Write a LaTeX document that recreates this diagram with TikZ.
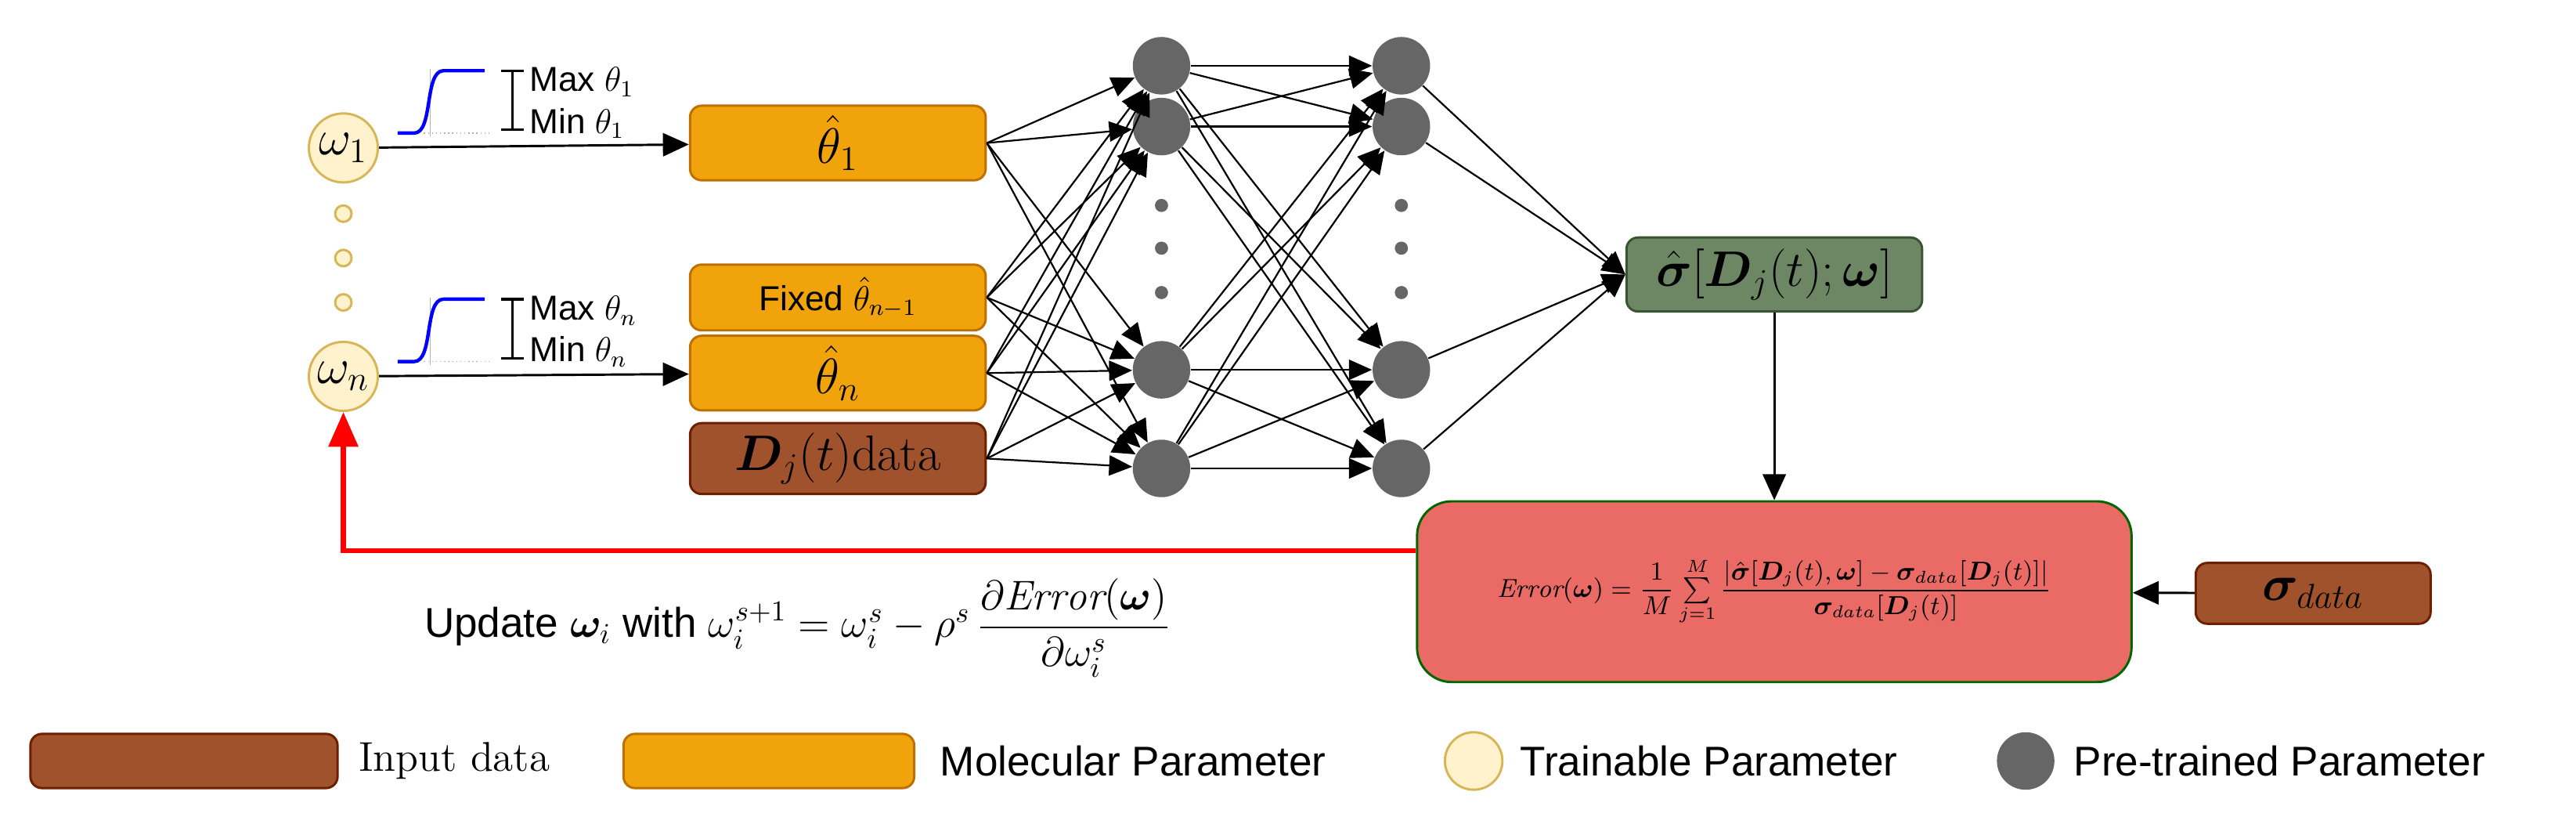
\documentclass[tikz,border=0pt]{standalone}
\usepackage{fontspec}
\usepackage{amsmath,bm}
\newfontfamily\sansf{Liberation Sans}
\usetikzlibrary{arrows.meta}
\definecolor{orangeF}{HTML}{F0A30A}
\definecolor{orangeD}{HTML}{BD7000}
\definecolor{brownF}{HTML}{A0522D}
\definecolor{brownD}{HTML}{6D1F00}
\definecolor{greenF}{HTML}{6D8764}
\definecolor{greenD}{HTML}{3A5431}
\definecolor{redF}{HTML}{EA6B66}
\definecolor{yelF}{HTML}{FFF2CC}
\definecolor{yelD}{HTML}{D6B656}
\tikzset{
    OB/.style ={rectangle, rounded corners=4pt, minimum width=3.6cm, minimum height=0.8cm, draw=orangeD, fill=orangeF, line width=0.8pt},
    BB/.style ={rectangle, rounded corners=4pt, minimum width=3.6cm, minimum height=0.8cm, draw=brownD, fill=brownF, line width=0.8pt},
    TC/.style ={circle, minimum size=0.84cm, inner sep=0pt, draw=yelD, fill=yelF, line width=0.8pt},
    TD/.style ={circle, minimum size=0.2cm, inner sep=0pt, draw=yelD, fill=yelF, line width=0.8pt},
    PC/.style ={circle, minimum size=0.7cm, inner sep=0pt, fill=black!60},
    ND/.style ={circle, minimum size=0.16cm, inner sep=0pt, fill=black!60},
    AR/.style ={-{Triangle[length=9pt,width=8pt]}, line width=0.8pt},
    LN/.style ={-{Triangle[length=8pt,width=7pt]}, line width=0.6pt},
    LT/.style ={anchor=west, inner sep=0pt, font=\sansf\Large}}
\begin{document}
\begin{tikzpicture}[x=0.02cm,y=-0.02cm]
    \useasboundingbox (0,0) rectangle (1568,497);
    % trainable parameters
    \node[TC] (w1) at (209,90) {\LARGE$\omega_1$};
    \node[TC] (wn) at (209,229) {\LARGE$\omega_n$};
    \foreach \y in {130,157,184}{
        \node[TD] at (209,\y) {};}
    % sigmoid bounds
    \foreach \y/\k in {0/1,139/n}{
        \draw[black!30, densely dotted] (258,81+\y) -- (298,81+\y);
        \draw[black!30] (262,42+\y) -- (262,83+\y);
        \draw[blue, line width=1.2pt] (242,81+\y) -- (252,81+\y)
            .. controls (264,81+\y) and (258,43+\y) .. (270,43+\y) -- (295,43+\y);
        \draw[line width=0.9pt] (305,43+\y) -- (319,43+\y) (312,43+\y) -- (312,79+\y) (305,79+\y) -- (319,79+\y);
        \node[anchor=west, inner sep=0pt, font=\sansf\large] at (322,50+\y) {Max $\theta_\k$};
        \node[anchor=west, inner sep=0pt, font=\sansf\large] at (322,75+\y) {Min $\theta_\k$};}
    % molecular parameters
    \node[OB] (t1) at (510,87) {\LARGE$\hat\theta_1$};
    \node[OB] (tf) at (510,181) {\sansf\large Fixed $\hat\theta_{n-1}$};
    \node[OB] (tn) at (510,227) {\LARGE$\hat\theta_n$};
    \node[BB] (dj) at (510,279) {\LARGE$\bm{D}_j(t)$data};
    \draw[AR] (w1) -- (t1);
    \draw[AR] (wn) -- (tn);
    % pre-trained network
    \foreach \i/\y in {1/40,2/77,3/225,4/285}{
        \node[PC] (a\i) at (707,\y) {};
        \node[PC] (b\i) at (853,\y) {};}
    \foreach \y in {125,151,178}{
        \node[ND] at (707,\y) {};
        \node[ND] at (853,\y) {};}
    \node[rectangle, rounded corners=4pt, minimum width=3.6cm, minimum height=0.9cm, draw=greenD, fill=greenF, line width=0.8pt] (out) at (1080,167) {\LARGE$\hat{\bm\sigma}[\bm{D}_j(t);\bm\omega]$};
    \foreach \s in {t1,tf,tn,dj}{
        \foreach \i in {1,...,4}{
            \draw[LN] (\s.east) -- (a\i);}}
    \foreach \i in {1,...,4}{
        \foreach \j in {1,...,4}{
            \draw[LN] (a\i) -- (b\j);}
        \draw[LN] (b\i) -- (out.west);}
    % error
    \node[rectangle, rounded corners=12pt, minimum width=8.7cm, minimum height=2.2cm, draw=green!40!black, fill=redF, line width=0.8pt] (err) at (1080,360)
        {\small$\mathit{Error}(\bm\omega)=\dfrac{1}{M}\sum\limits_{j=1}^{M}\dfrac{|\hat{\bm\sigma}[\bm D_j(t),\bm\omega]-\bm\sigma_{data}[\bm D_j(t)]|}{\bm\sigma_{data}[\bm D_j(t)]}$};
    \node[BB, minimum width=2.86cm, minimum height=0.74cm] (sd) at (1408,361) {\LARGE$\bm\sigma_{data}$};
    \draw[AR] (out) -- (err);
    \draw[AR] (sd) -- (err);
    \draw[-{Triangle[length=12pt,width=10pt]}, red, line width=1.8pt] (err.west |- 0,335) -| (wn.south);
    \node[LT] (upd) at (258,382) {Update $\bm\omega_i$ with $\omega_i^{s+1}=\omega_i^s-\rho^s\,\dfrac{\partial\mathit{Error}(\bm\omega)}{\partial\omega_i^s}$};
    % legend
    \node[BB, minimum width=3.74cm, minimum height=0.66cm] (l1) at (112,463) {};
    \node[anchor=west, inner sep=0pt, font=\Large] at (218,463) {Input data};
    \node[OB, minimum width=3.54cm, minimum height=0.66cm] (l2) at (468,463) {};
    \node[LT] at (572,463) {Molecular Parameter};
    \node[TC, minimum size=0.7cm] (l3) at (897,463) {};
    \node[LT] at (925,463) {Trainable Parameter};
    \node[PC] (l4) at (1233,463) {};
    \node[LT] at (1262,463) {Pre-trained Parameter};
\end{tikzpicture}
\end{document}
